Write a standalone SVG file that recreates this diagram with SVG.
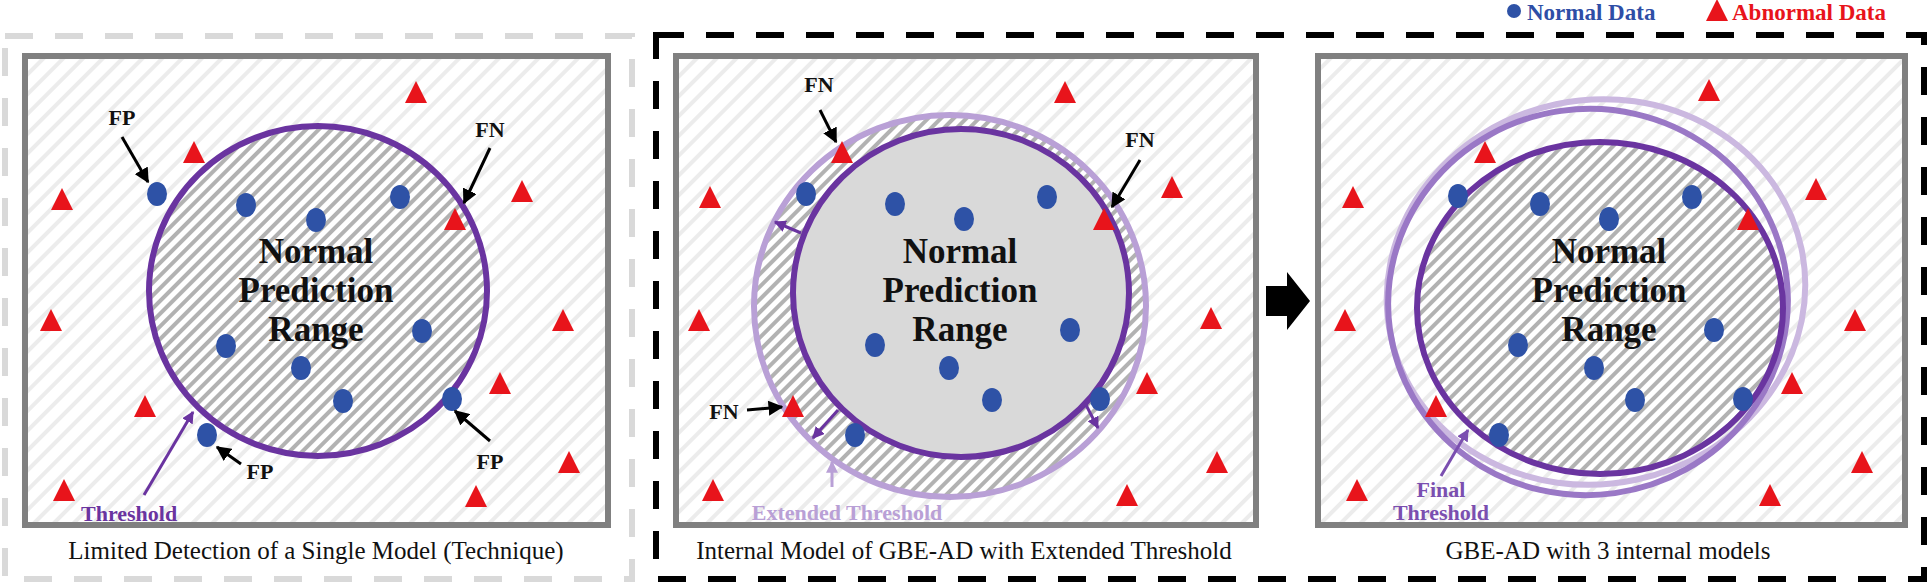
<svg xmlns="http://www.w3.org/2000/svg" width="1930" height="586" viewBox="0 0 1930 586">
<style>
.box{fill:url(#bgH);stroke:#808080;stroke-width:6}
.dot{fill:#2e52a6}
.tri{fill:#e8141b}
.lbl{font-family:"Liberation Serif",serif;font-weight:bold;font-size:22px;fill:#111;text-anchor:middle}
.big{font-family:"Liberation Serif",serif;font-weight:bold;font-size:35px;fill:#111;text-anchor:middle}
.cap{font-family:"Liberation Serif",serif;font-size:25px;fill:#111;text-anchor:middle}
.blk{stroke:#000;stroke-width:3;fill:none;marker-end:url(#ah)}
</style>
<defs>
<pattern id="bgH" patternUnits="userSpaceOnUse" width="14" height="14" patternTransform="rotate(45)"><rect width="14" height="14" fill="#fff"/><rect width="4" height="14" fill="#ececec"/></pattern>
<pattern id="inH" patternUnits="userSpaceOnUse" width="9" height="9" patternTransform="rotate(45)"><rect width="9" height="9" fill="#fff"/><rect width="4" height="9" fill="#b2b2b2"/></pattern>
<marker id="ah" viewBox="0 0 10 10" refX="9" refY="5" markerWidth="5" markerHeight="5" orient="auto"><path d="M0,0L10,5L0,10z" fill="#000"/></marker>
<marker id="ahp" viewBox="0 0 10 10" refX="9" refY="5" markerWidth="4" markerHeight="4" orient="auto"><path d="M0,0L10,5L0,10z" fill="#6a34a0"/></marker>
<marker id="ahl" viewBox="0 0 10 10" refX="9" refY="5" markerWidth="4" markerHeight="4" orient="auto"><path d="M0,0L10,5L0,10z" fill="#b9a0d6"/></marker>
<marker id="ahm" viewBox="0 0 10 10" refX="9" refY="5" markerWidth="4" markerHeight="4" orient="auto"><path d="M0,0L10,5L0,10z" fill="#7b4fb0"/></marker>
<path id="t" d="M0,-12L11,10L-11,10z"/>
</defs>
<rect width="1930" height="586" fill="#fff"/>
<rect x="5" y="36" width="627" height="543" fill="none" stroke="#d9d9d9" stroke-width="6" stroke-dasharray="28 22"/>
<rect x="656" y="35" width="1268" height="544" fill="none" stroke="#000" stroke-width="6" stroke-dasharray="28 22"/>
<g id="legend">
<circle cx="1514" cy="11" r="7" class="dot"/>
<text x="1527" y="20" font-family="Liberation Serif,serif" font-weight="bold" font-size="23" fill="#2e4ea6">Normal Data</text>
<use href="#t" x="1717" y="11" class="tri" transform="scale(1)"/>
<text x="1732" y="20" font-family="Liberation Serif,serif" font-weight="bold" font-size="23" fill="#e8141b">Abnormal Data</text>
</g>
<g id="panel1">
<rect x="25" y="56" width="583" height="469" class="box"/>
<ellipse cx="318" cy="291" rx="169" ry="165" fill="url(#inH)" stroke="#6a34a0" stroke-width="6"/>
<g class="dot"><ellipse cx="157" cy="194" rx="10" ry="12"/><ellipse cx="246" cy="205" rx="10" ry="12"/><ellipse cx="316" cy="220" rx="10" ry="12"/><ellipse cx="400" cy="197" rx="10" ry="12"/><ellipse cx="226" cy="346" rx="10" ry="12"/><ellipse cx="301" cy="368" rx="10" ry="12"/><ellipse cx="343" cy="401" rx="10" ry="12"/><ellipse cx="422" cy="331" rx="10" ry="12"/><ellipse cx="452" cy="399" rx="10" ry="12"/><ellipse cx="207" cy="435" rx="10" ry="12"/></g>
<g class="tri"><use href="#t" x="416" y="93"/><use href="#t" x="194" y="153"/><use href="#t" x="62" y="200"/><use href="#t" x="455" y="220"/><use href="#t" x="522" y="192"/><use href="#t" x="51" y="321"/><use href="#t" x="145" y="407"/><use href="#t" x="500" y="384"/><use href="#t" x="64" y="491"/><use href="#t" x="476" y="497"/><use href="#t" x="563" y="321"/><use href="#t" x="569" y="463"/></g>
<text class="big" x="316" y="263">Normal</text><text class="big" x="316" y="302">Prediction</text><text class="big" x="316" y="341">Range</text>
<text class="lbl" x="122" y="125">FP</text><text class="lbl" x="490" y="137">FN</text><text class="lbl" x="260" y="479">FP</text><text class="lbl" x="490" y="469">FP</text>
<text x="81" y="521" font-family="Liberation Serif,serif" font-weight="bold" font-size="22" fill="#6a34a0">Threshold</text>
<text class="cap" x="316" y="559">Limited Detection of a Single Model (Technique)</text>
</g>
<g id="panel2">
<rect x="676" y="56" width="580" height="469" class="box"/>
<ellipse cx="950" cy="306" rx="196" ry="191" fill="url(#inH)" stroke="#b9a0d6" stroke-width="6"/>
<ellipse cx="961" cy="293" rx="168" ry="164" fill="#d9d9d9" stroke="#6a34a0" stroke-width="6"/>
<g class="dot"><ellipse cx="806" cy="194" rx="10" ry="12"/><ellipse cx="895" cy="204" rx="10" ry="12"/><ellipse cx="964" cy="219" rx="10" ry="12"/><ellipse cx="1047" cy="197" rx="10" ry="12"/><ellipse cx="875" cy="345" rx="10" ry="12"/><ellipse cx="949" cy="368" rx="10" ry="12"/><ellipse cx="992" cy="400" rx="10" ry="12"/><ellipse cx="855" cy="435" rx="10" ry="12"/><ellipse cx="1070" cy="330" rx="10" ry="12"/><ellipse cx="1100" cy="399" rx="10" ry="12"/></g>
<g class="tri"><use href="#t" x="842" y="153"/><use href="#t" x="710" y="198"/><use href="#t" x="699" y="321"/><use href="#t" x="793" y="407"/><use href="#t" x="713" y="491"/><use href="#t" x="1065" y="93"/><use href="#t" x="1104" y="220"/><use href="#t" x="1172" y="188"/><use href="#t" x="1211" y="319"/><use href="#t" x="1147" y="384"/><use href="#t" x="1217" y="463"/><use href="#t" x="1127" y="496"/></g>
<text class="big" x="960" y="263">Normal</text><text class="big" x="960" y="302">Prediction</text><text class="big" x="960" y="341">Range</text>
<text class="lbl" x="819" y="92">FN</text><text class="lbl" x="724" y="419">FN</text><text class="lbl" x="1140" y="147">FN</text>
<text x="847" y="520" font-family="Liberation Serif,serif" font-weight="bold" font-size="22" fill="#b9a0d6" text-anchor="middle">Extended Threshold</text>
<text class="cap" x="964" y="559">Internal Model of GBE-AD with Extended Threshold</text>
</g>
<g id="arrow"><path d="M1266,286H1287V272L1310,301L1287,330V316H1266z" fill="#000"/></g>
<g id="panel3">
<rect x="1318" y="56" width="587" height="469" class="box"/>
<ellipse cx="1600" cy="308" rx="183" ry="166" fill="url(#inH)"/>
<ellipse cx="1596" cy="292" rx="210" ry="192" transform="rotate(-12 1596 292)" fill="none" stroke="#cbb8e0" stroke-width="6"/>
<ellipse cx="1588" cy="302" rx="200" ry="193" transform="rotate(-8 1588 302)" fill="none" stroke="#9a78c6" stroke-width="6"/>
<ellipse cx="1600" cy="308" rx="183" ry="166" fill="none" stroke="#6a34a0" stroke-width="6"/>
<g class="dot"><ellipse cx="1458" cy="196" rx="10" ry="12"/><ellipse cx="1540" cy="204" rx="10" ry="12"/><ellipse cx="1609" cy="219" rx="10" ry="12"/><ellipse cx="1692" cy="197" rx="10" ry="12"/><ellipse cx="1518" cy="345" rx="10" ry="12"/><ellipse cx="1594" cy="368" rx="10" ry="12"/><ellipse cx="1635" cy="400" rx="10" ry="12"/><ellipse cx="1714" cy="330" rx="10" ry="12"/><ellipse cx="1743" cy="399" rx="10" ry="12"/><ellipse cx="1499" cy="435" rx="10" ry="12"/></g>
<g class="tri"><use href="#t" x="1709" y="91"/><use href="#t" x="1485" y="153"/><use href="#t" x="1748" y="220"/><use href="#t" x="1816" y="190"/><use href="#t" x="1855" y="321"/><use href="#t" x="1792" y="384"/><use href="#t" x="1862" y="463"/><use href="#t" x="1770" y="496"/><use href="#t" x="1353" y="198"/><use href="#t" x="1345" y="321"/><use href="#t" x="1436" y="407"/><use href="#t" x="1357" y="491"/></g>
<text class="big" x="1609" y="263">Normal</text><text class="big" x="1609" y="302">Prediction</text><text class="big" x="1609" y="341">Range</text>
<text x="1441" y="497" font-family="Liberation Serif,serif" font-weight="bold" font-size="22" fill="#7b4fb0" text-anchor="middle">Final</text>
<text x="1441" y="520" font-family="Liberation Serif,serif" font-weight="bold" font-size="22" fill="#7b4fb0" text-anchor="middle">Threshold</text>
<text class="cap" x="1608" y="559">GBE-AD with 3 internal models</text>
</g>
<g id="connectors">
<line class="blk" x1="122" y1="137" x2="148" y2="182"/>
<line class="blk" x1="490" y1="148" x2="464" y2="203"/>
<line class="blk" x1="241" y1="464" x2="217" y2="447"/>
<line class="blk" x1="490" y1="441" x2="455" y2="411"/>
<line x1="144" y1="495" x2="193" y2="412" stroke="#6a34a0" stroke-width="3" marker-end="url(#ahp)"/>
<line class="blk" x1="820" y1="110" x2="836" y2="142"/>
<line class="blk" x1="747" y1="410" x2="782" y2="407"/>
<line class="blk" x1="1140" y1="160" x2="1112" y2="207"/>
<line x1="801" y1="233" x2="775" y2="222" stroke="#6a34a0" stroke-width="3" marker-end="url(#ahp)"/>
<line x1="838" y1="410" x2="813" y2="438" stroke="#6a34a0" stroke-width="3" marker-end="url(#ahp)"/>
<line x1="1086" y1="405" x2="1098" y2="428" stroke="#6a34a0" stroke-width="3" marker-end="url(#ahp)"/>
<line x1="832" y1="487" x2="832" y2="462" stroke="#b9a0d6" stroke-width="3" marker-end="url(#ahl)"/>
<line x1="1441" y1="476" x2="1468" y2="430" stroke="#7b4fb0" stroke-width="3" marker-end="url(#ahm)"/>
</g>
</svg>
